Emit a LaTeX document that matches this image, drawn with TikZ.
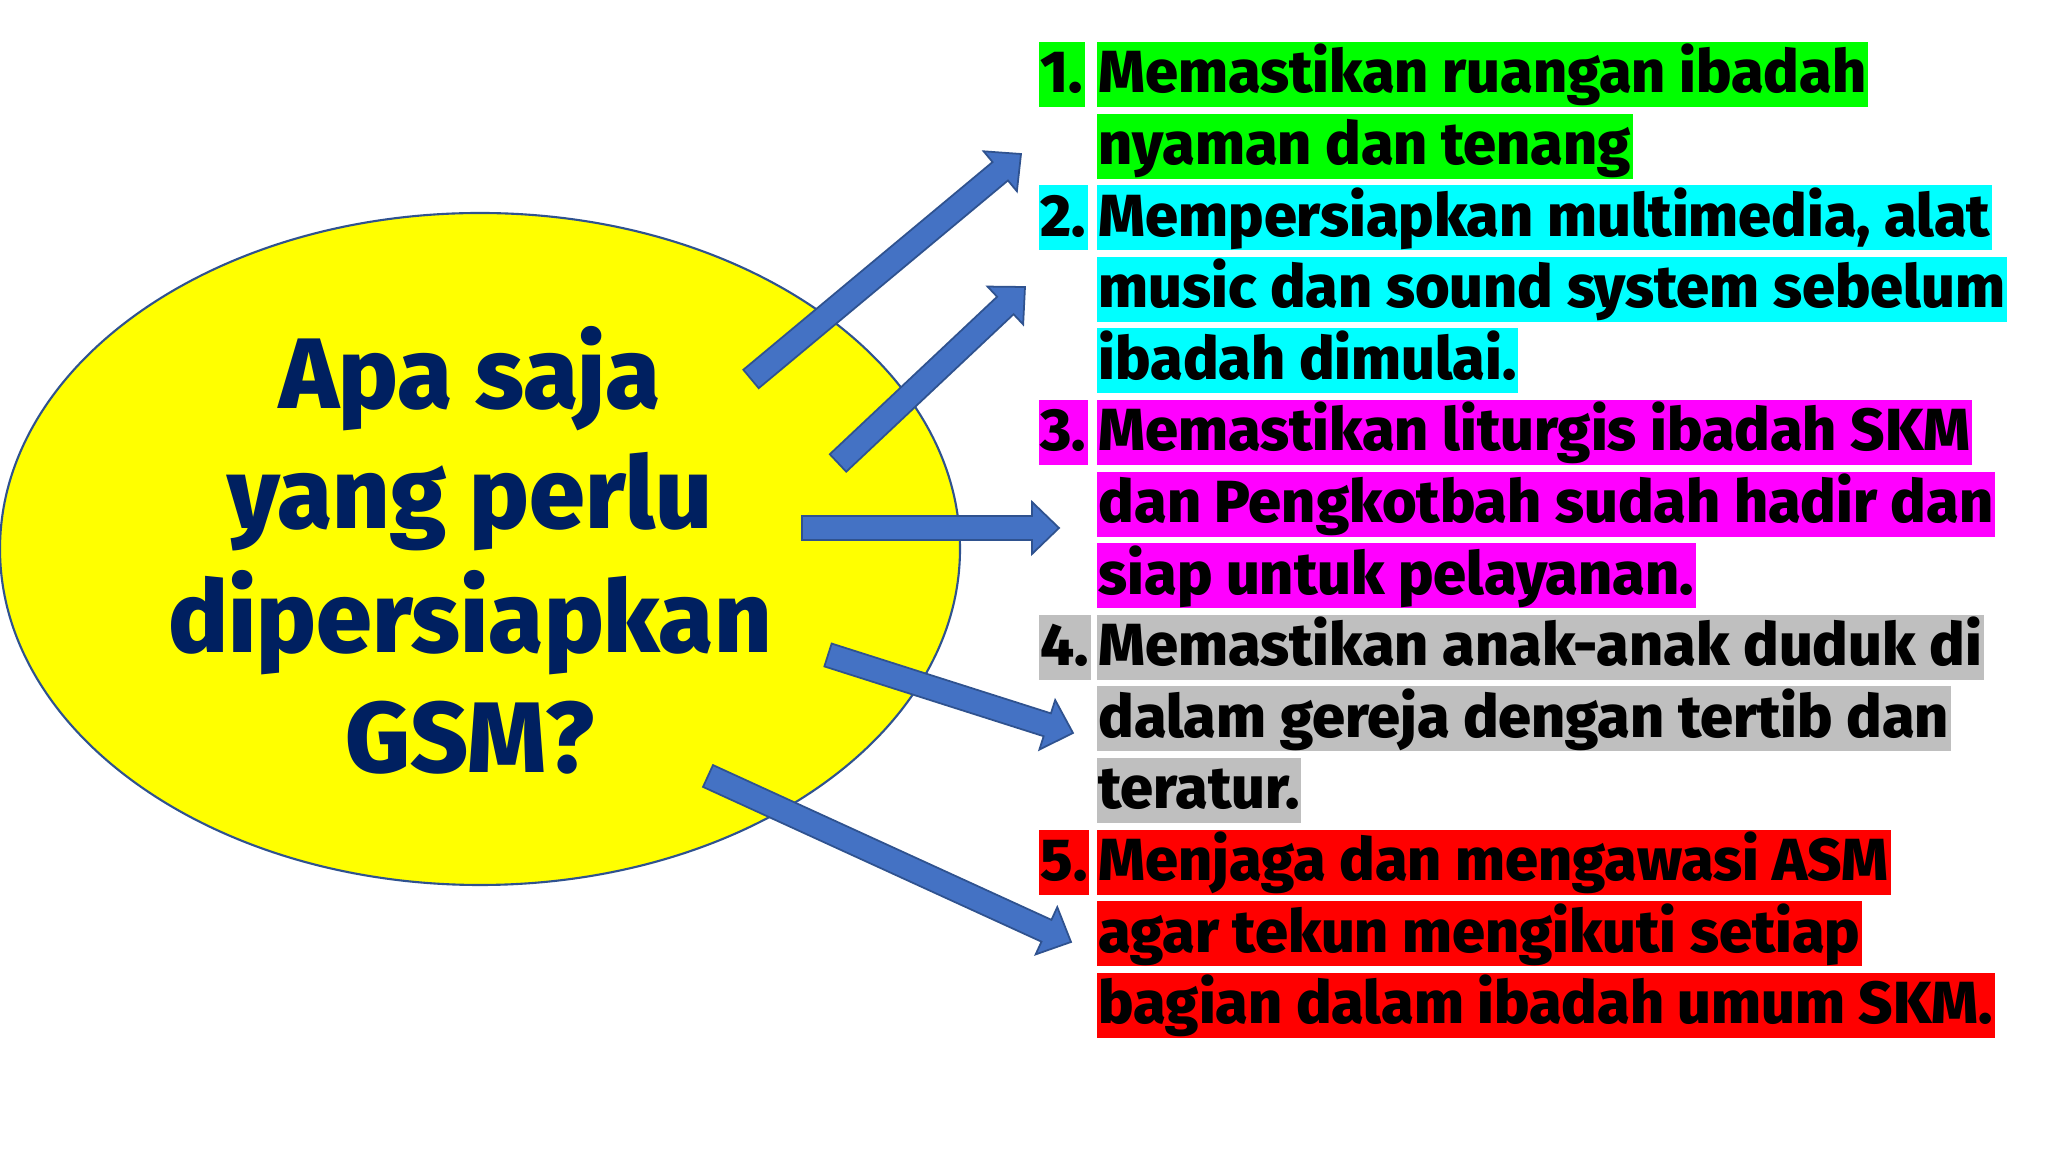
\documentclass[tikz,border=0pt]{standalone}
\usepackage{fontspec}
\setmainfont{Fira Sans}
\newfontfamily\tebal{Fira Sans ExtraBold}
\usetikzlibrary{calc,shapes.geometric,positioning}

\definecolor{kuning}{RGB}{255,255,0}
\definecolor{hijau}{HTML}{00FF00}
\definecolor{sian}{HTML}{00FFFF}
\definecolor{ungu}{HTML}{FF00FF}
\definecolor{abu}{HTML}{BFBFBF}
\definecolor{merah}{HTML}{FF0000}
\definecolor{navy}{HTML}{002060}
\definecolor{panahbiru}{HTML}{4472C4}
\definecolor{tepibiru}{HTML}{2F528F}

\tikzset{
  baris/.style={anchor=west, inner xsep=0.2mm, inner ysep=0pt,
    text height=5.1mm, text depth=1.4mm,
    font=\fontsize{16.9}{20}\tebal},
  nomor/.style={baris},
  judul/.style={anchor=base, text=navy, font=\fontsize{28.5}{34}\tebal},
  panah/.style={fill=panahbiru, draw=tepibiru, line width=0.5pt},
}

% block arrow from #1 (tail) to #2 (tip)
\newcommand\blokpanah[2]{%
  \filldraw[panah] ($(#1)!1.2mm!90:(#2)$)
    -- ($(#2)!2.7mm!(#1)!1.2mm!90:(#2)$)
    -- ($(#2)!2.7mm!(#1)!2.6mm!90:(#2)$)
    -- (#2)
    -- ($(#2)!2.7mm!(#1)!2.6mm!-90:(#2)$)
    -- ($(#2)!2.7mm!(#1)!1.2mm!-90:(#2)$)
    -- ($(#1)!1.2mm!-90:(#2)$) -- cycle;}

\begin{document}
\begin{tikzpicture}[x=0.1mm, y=-0.1mm]
  % the page
  \fill[white] (0,0) rectangle (2048,1152);
  \useasboundingbox (0,0) rectangle (2048,1152);

  % the yellow bubble with the question
  \node[ellipse, draw=tepibiru, line width=0.6pt, fill=kuning,
        minimum width=96mm, minimum height=67.2mm, inner sep=0pt] (gelembung) at (480,549) {};
  \node[judul] (judul1) at (470,409) {Apa saja};
  \node[judul] (judul2) at (470,529) {yang perlu};
  \node[judul] (judul3) at (470,653) {dipersiapkan};
  \node[judul] (judul4) at (470,773) {GSM?};

  % tails and tips of the arrows
  \coordinate (ekor1) at (751,379);  \coordinate (ujung1) at (1021,154);
  \coordinate (ekor2) at (838,463);  \coordinate (ujung2) at (1025,287);
  \coordinate (ekor3) at (802,528);  \coordinate (ujung3) at (1059,528);
  \coordinate (ekor4) at (828,655);  \coordinate (ujung4) at (1073,733);
  \coordinate (ekor5) at (708,776);  \coordinate (ujung5) at (1071,942);
  \blokpanah{ekor1}{ujung1}
  \blokpanah{ekor2}{ujung2}
  \blokpanah{ekor3}{ujung3}
  \blokpanah{ekor4}{ujung4}
  \blokpanah{ekor5}{ujung5}

  % 1.
  \node[nomor, fill=hijau] (no1) at (1038,74.5) {1.};
  \node[baris, fill=hijau] (b1a) at (1096,74.5) {Memastikan ruangan ibadah};
  \node[baris, fill=hijau] (b1b) at (1096,146.1) {nyaman dan tenang};
  % 2.
  \node[nomor, fill=sian] (no2) at (1038,217.7) {2.};
  \node[baris, fill=sian] (b2a) at (1096,217.7) {Mempersiapkan multimedia, alat};
  \node[baris, fill=sian] (b2b) at (1096,289.3) {music dan sound system sebelum};
  \node[baris, fill=sian] (b2c) at (1096,360.9) {ibadah dimulai.};
  % 3.
  \node[nomor, fill=ungu] (no3) at (1038,432.5) {3.};
  \node[baris, fill=ungu] (b3a) at (1096,432.5) {Memastikan liturgis ibadah SKM};
  \node[baris, fill=ungu] (b3b) at (1096,504.1) {dan Pengkotbah sudah hadir dan};
  \node[baris, fill=ungu] (b3c) at (1096,575.7) {siap untuk pelayanan.};
  % 4.
  \node[nomor, fill=abu] (no4) at (1038,647.3) {4.};
  \node[baris, fill=abu] (b4a) at (1096,647.3) {Memastikan anak-anak duduk di};
  \node[baris, fill=abu] (b4b) at (1096,718.9) {dalam gereja dengan tertib dan};
  \node[baris, fill=abu] (b4c) at (1096,790.5) {teratur.};
  % 5.
  \node[nomor, fill=merah] (no5) at (1038,862.1) {5.};
  \node[baris, fill=merah] (b5a) at (1096,862.1) {Menjaga dan mengawasi ASM};
  \node[baris, fill=merah] (b5b) at (1096,933.7) {agar tekun mengikuti setiap};
  \node[baris, fill=merah] (b5c) at (1096,1005.3) {bagian dalam ibadah umum SKM.};
\end{tikzpicture}
\end{document}
